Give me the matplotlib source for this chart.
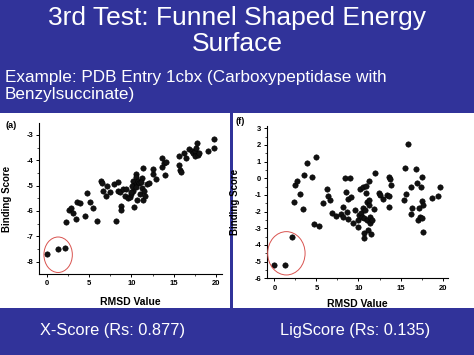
import matplotlib
matplotlib.use("Agg")
import matplotlib.pyplot as plt
from matplotlib.patches import Rectangle, Ellipse
from matplotlib.ticker import MultipleLocator

plt.rcParams['font.family'] = ['Liberation Sans', 'DejaVu Sans']
plt.rcParams['axes.unicode_minus'] = False

# X-Score panel (a): RMSD vs binding score
xs_rmsd = [0.0, 1.4, 2.2, 2.35, 2.7, 2.9, 3.1, 3.5, 3.6, 4.0, 4.5, 4.8, 5.1, 5.5, 5.9,
           6.4, 6.5, 6.7, 7.0, 7.1, 7.5, 8.0, 8.2, 8.4, 8.4, 8.7, 8.8, 8.8, 9.0, 9.2,
           9.4, 9.6, 9.8, 10.0, 10.2, 10.2, 10.3, 10.4, 10.5, 10.6, 10.7, 10.8, 10.9,
           11.0, 11.2, 11.3, 11.4, 11.4, 11.5, 11.6, 11.8, 12.1, 12.5, 12.5, 12.9,
           13.6, 13.6, 13.9, 14.0, 14.1, 15.6, 15.6, 15.7, 15.9, 16.2, 16.5, 16.8,
           17.1, 17.3, 17.5, 17.5, 17.6, 17.7, 17.8, 18.0, 19.0, 19.7, 19.8,
           10.1, 10.5, 11.1, 9.9]
xs_score = [-7.7, -7.5, -7.45, -6.43, -5.97, -5.9, -6.1, -6.3, -5.63, -5.7, -6.2, -5.3,
            -5.63, -5.9, -6.4, -4.83, -4.9, -5.2, -5.4, -5.0, -5.25, -4.95, -6.4, -4.87,
            -5.2, -5.25, -5.8, -5.95, -5.15, -5.4, -5.15, -5.5, -5.45, -5.35, -4.8, -5.2,
            -5.85, -4.97, -4.55, -4.65, -5.55, -4.8, -4.9, -5.35, -4.7, -5.1, -4.32,
            -5.55, -5.2, -5.4, -4.95, -4.9, -4.55, -4.35, -4.75, -3.92, -4.25, -4.1,
            -4.6, -4.05, -3.85, -4.17, -4.37, -4.47, -3.7, -3.92, -3.57, -3.62, -3.72,
            -3.65, -3.85, -3.53, -3.33, -3.8, -3.7, -3.62, -3.5, -3.17,
            -5.0, -5.05, -4.85, -5.25]

# LigScore panel (f)
lig_rmsd = [0.0, 1.3, 2.1, 2.3, 2.5, 2.7, 3.0, 3.4, 3.5, 3.9, 4.5, 4.7, 5.0, 5.3, 5.8,
            6.3, 6.35, 6.6, 6.9, 7.3, 7.9, 8.1, 8.2, 8.4, 8.5, 8.6, 8.7, 8.8, 9.0, 9.1,
            9.3, 9.6, 9.9, 10.0, 10.1, 10.2, 10.3, 10.4, 10.5, 10.5, 10.6, 10.6, 10.7,
            10.8, 10.9, 10.9, 11.0, 11.0, 11.1, 11.2, 11.3, 11.3, 11.4, 11.4, 11.5,
            11.6, 11.9, 12.0, 12.4, 12.6, 12.9, 13.4, 13.6, 13.6, 13.8, 13.9, 13.6,
            15.4, 15.5, 15.6, 15.9, 16.2, 16.3, 16.4, 16.8, 17.0, 17.1, 17.2, 17.3,
            17.4, 17.5, 17.6, 17.6, 17.7, 17.7, 18.8, 19.5, 19.75]
lig_score = [-5.22, -5.2, -3.52, -1.44, -0.4, -0.14, -0.94, -1.86, 0.2, 0.9, 0.1, -2.76,
             1.3, -2.86, -1.5, -0.64, -1.06, -1.3, -2.1, -2.26, -2.14, -1.74, -2.3, 0.0,
             -0.8, -2.0, -2.46, -1.26, 0.0, -1.14, -2.66, -1.9, -2.9, -2.5, -2.2, -0.66,
             -2.1, -2.3, -1.8, -0.54, -3.3, -3.6, -2.4, -1.9, -0.46, -0.86, -1.4, -2.5,
             -3.1, -1.6, -0.14, -1.3, -2.3, -2.7, -3.34, -2.5, -1.82, 0.34, -0.9, -1.0,
             -1.22, -1.0, -1.7, 0.1, -0.06, -0.4, -1.06, -1.3, 0.64, -0.96, 2.06, -0.5,
             -2.14, -1.76, 0.58, -0.3, -2.5, -1.8, -2.3, -0.5, -1.34, -2.4, 0.1, -3.2,
             -1.6, -1.2, -1.06, -0.54]

bg = '#31339a'
W, H = 474, 355
fig = plt.figure(figsize=(4.74, 3.55), dpi=100, facecolor=bg)


def px(x, y):
    return x / W, 1 - y / H


# white picture boxes (behind the axes)
for x0, x1 in [(0, 230), (233, 474)]:
    fig.patches.append(Rectangle((x0 / W, 1 - 308 / H), (x1 - x0) / W, (308 - 113) / H,
                                 transform=fig.transFigure, facecolor='white',
                                 edgecolor='none', zorder=-10))


def panel(rect, xv, yv, ylim, ring, label_pos, tag, xlab_y):
    ax = fig.add_axes(rect)
    ax.set_facecolor('none')
    ax.scatter(xv, yv, s=15, c='#111111', edgecolors='#000000', linewidths=0.4, zorder=3)
    ax.set_xlim(-0.85, 20.65)
    ax.set_ylim(*ylim)
    for s in ['top', 'right']:
        ax.spines[s].set_visible(False)
    for s in ['left', 'bottom']:
        ax.spines[s].set_linewidth(0.8)
    ax.xaxis.set_major_locator(MultipleLocator(5))
    ax.xaxis.set_minor_locator(MultipleLocator(2.5))
    ax.yaxis.set_major_locator(MultipleLocator(1))
    ax.yaxis.set_minor_locator(MultipleLocator(0.5))
    ax.tick_params(which='major', length=2.5, width=0.7, labelsize=5.5, pad=2)
    ax.tick_params(which='minor', length=1.5, width=0.5)
    for t in ax.get_xticklabels() + ax.get_yticklabels():
        t.set_fontweight('bold')
    ax.set_xlabel('RMSD Value', fontsize=7.5, fontweight='bold')
    ax.set_ylabel('Binding Score', fontsize=7, fontweight='bold')
    ax.yaxis.set_label_coords(-0.15, 0.5)
    ax.xaxis.set_label_coords(0.5, xlab_y)

    # red ring around the near-native poses
    ax.add_patch(Ellipse(ring[:2], ring[2], ring[3], facecolor='none',
                         edgecolor='#d9534f', linewidth=0.7, zorder=4, clip_on=False))
    fig.text(*px(*label_pos), tag, fontsize=6.5, fontweight='bold', ha='left', va='center')
    return ax


panel([39.3 / W, 1 - 274 / H, 182.4 / W, 151 / H], xs_rmsd, xs_score,
      (-8.49, -2.53), (1.37, -7.73, 3.35, 1.4), (6, 125), '(a)', -0.15)
panel([267.3 / W, 1 - 278.3 / H, 180.7 / W, 152 / H], lig_rmsd, lig_score,
      (-6.0, 3.12), (1.42, -4.5, 4.45, 2.6), (235, 121), '(f)', -0.135)

fig.text(*px(237, 31), '3rd Test: Funnel Shaped Energy\nSurface', color='white',
         fontsize=19, ha='center', va='center', linespacing=1.15)
fig.text(*px(5, 86), 'Example: PDB Entry 1cbx (Carboxypeptidase with\nBenzylsuccinate)',
         color='white', fontsize=12.3, ha='left', va='center', linespacing=1.1)
fig.text(*px(112, 331), 'X-Score (Rs: 0.877)', color='white', fontsize=11.8,
         ha='center', va='center')
fig.text(*px(355, 331), 'LigScore (Rs: 0.135)', color='white', fontsize=11.8,
         ha='center', va='center')

fig.savefig('out.png', dpi=100, facecolor=bg)
